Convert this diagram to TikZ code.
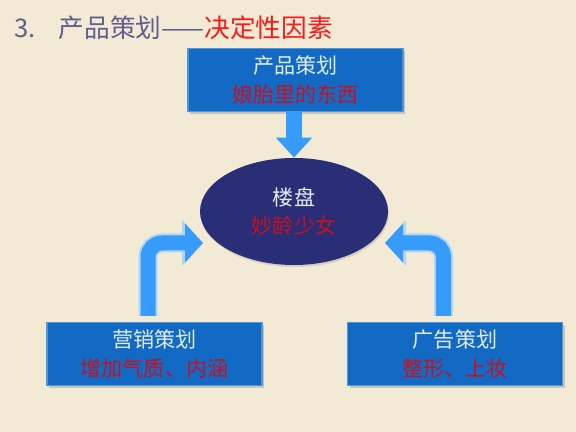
\documentclass[tikz,border=0pt]{standalone}
\usepackage{fontspec}
\setmainfont{Noto Sans CJK SC}
\usepackage{tikz}
\usetikzlibrary{arrows.meta,positioning,calc,shadows,shapes.geometric}

\definecolor{paper}{RGB}{243,234,214}
\definecolor{planblue}{RGB}{18,106,196}
\definecolor{planedge}{RGB}{80,150,215}
\definecolor{housenavy}{RGB}{42,46,118}
\definecolor{arrowblue}{RGB}{55,155,250}
\definecolor{glowblue}{RGB}{175,215,245}
\definecolor{softwhite}{RGB}{226,236,240}
\definecolor{deepred}{RGB}{200,16,30}
\definecolor{titlegray}{RGB}{92,96,140}
\definecolor{titlered}{RGB}{250,24,24}

\begin{document}
\begin{tikzpicture}[
    plan/.style={draw=planedge, line width=0.6pt, fill=planblue, minimum width=4.3cm, minimum height=1.26cm,
        align=center, inner sep=0pt, font=\fontsize{12}{16}\selectfont, text=softwhite,
        drop shadow={shadow xshift=0.04cm, shadow yshift=-0.05cm, opacity=0.35}},
    house/.style={ellipse, fill=housenavy, minimum width=3.76cm, minimum height=2.14cm, inner sep=0pt,
        align=center, font=\fontsize{12}{16}\selectfont, text=softwhite,
        drop shadow={shadow xshift=0.02cm, shadow yshift=-0.04cm, opacity=0.25}},
    push/.style={draw=arrowblue, line width=0.32cm, -{Triangle[length=0.40cm,width=0.70cm]}},
    turnarrow/.style={draw=arrowblue, line width=0.30cm, rounded corners=0.28cm,
        -{Triangle[length=0.36cm,width=0.76cm]},
        preaction={draw=glowblue, line width=0.38cm, -{Triangle[length=0.42cm,width=0.90cm]}}},
    title/.style={anchor=west, inner sep=0pt, font=\fontsize{14.6}{17}\selectfont}
]
    \useasboundingbox[fill=paper] (0,0) rectangle (11.52,8.64);

    \node[title] (head) at (0.28,8.08) {\textcolor{titlegray}{3.\hspace{0.9em}产品策划——}\textcolor{titlered}{决定性因素}};

    \node[plan] (top) at (5.91,7.04) {产品策划\\\textcolor{deepred}{娘胎里的东西}};
    \node[house] (core) at (5.88,4.41) {楼盘\\\textcolor{deepred}{妙龄少女}};
    \node[plan] (mkt) at (3.09,1.56) {营销策划\\\textcolor{deepred}{增加气质、内涵}};
    \node[plan] (ad) at (9.10,1.56) {广告策划\\\textcolor{deepred}{整形、上妆}};

    \coordinate (mktin) at (4.06,3.78);
    \coordinate (adin) at (7.70,3.78);

    \draw[push] (top.south -| core.north) -- (core.north);
    \draw[turnarrow] ([xshift=-0.13cm,yshift=0.12cm]mkt.north) |- (mktin);
    \draw[turnarrow] ([xshift=-0.23cm,yshift=0.12cm]ad.north) |- (adin);
\end{tikzpicture}
\end{document}
